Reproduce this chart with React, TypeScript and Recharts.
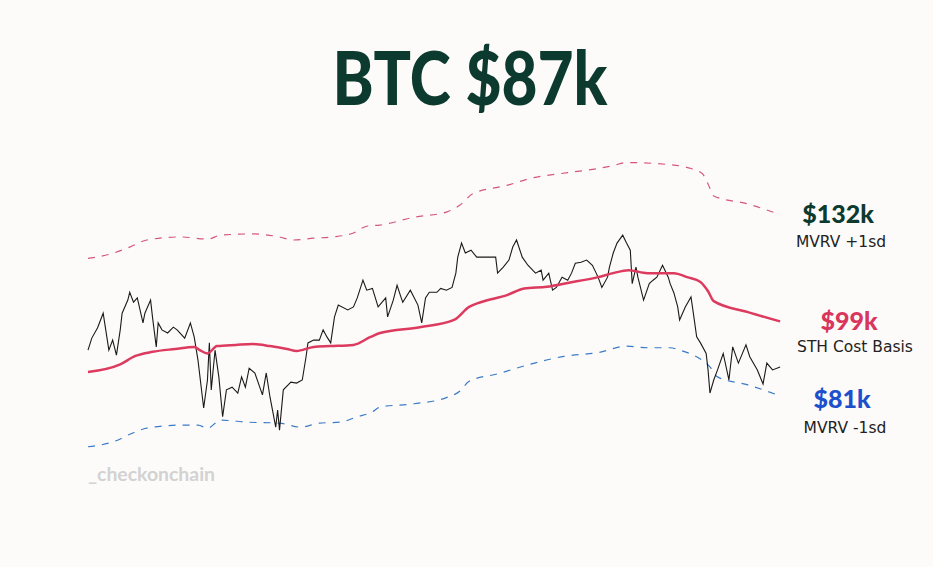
import { LineChart, Line, XAxis, YAxis } from 'recharts'

// day index (0 = late Dec 2024) and values in $k
const priceDays = [
  0, 2, 5, 8, 11, 13, 15, 17, 18, 21, 22, 24, 26, 29, 30, 33, 34, 36, 37, 39,
  42, 45, 47, 51, 54, 56, 58, 61, 63, 64, 65, 67, 69, 71, 73, 76, 79, 81, 83, 85,
  88, 92, 94, 96, 99, 100, 101, 103, 107, 110, 113, 115, 116, 119, 122, 124, 126, 128, 130, 132,
  137, 140, 142, 145, 147, 150, 153, 157, 158, 161, 163, 165, 166, 170, 174, 176, 178, 180, 184, 186,
  189, 192, 194, 195, 197, 199, 202, 205, 208, 212, 215, 216, 219, 222, 224, 226, 229, 232, 236, 239,
  240, 243, 245, 247, 250, 253, 255, 257, 260, 263, 266, 268, 269, 271, 274, 275, 277, 279, 282, 284,
  286, 287, 289, 290, 293, 296, 298, 300, 303, 306, 307, 309, 311, 312, 315, 318, 319, 321, 323, 326,
  327, 328, 330, 332, 335, 338, 340, 343, 347, 349, 353, 356, 358, 361, 365,
]
const priceValues = [
  91.6, 94.6, 97.2, 101.1, 91.6, 94.1, 90.4, 96.7, 101.1, 104.7, 106.9, 104.1, 105.3, 98.5, 101.1, 104.7, 100.1, 92.4, 98.5, 96.7,
  95.9, 97.4, 96.7, 94.6, 98.5, 94.9, 89.2, 78.5, 84.6, 93.4, 82.4, 91.6, 85.3, 76.7, 82.4, 83.0, 81.7, 85.3, 83.0, 87.3,
  86.2, 81.3, 86.2, 80.8, 74.6, 78.1, 74.0, 82.4, 84.1, 83.9, 84.6, 90.0, 93.4, 94.1, 94.1, 96.7, 94.9, 93.4, 100.1, 103.3,
  102.0, 102.8, 105.3, 110.4, 107.5, 108.0, 102.8, 105.3, 100.1, 104.7, 108.9, 105.6, 104.1, 107.5, 103.3, 98.5, 105.3, 106.9, 106.9, 108.0,
  107.5, 108.3, 112.5, 117.4, 121.9, 118.7, 119.6, 117.4, 117.4, 117.4, 117.4, 112.5, 114.3, 116.5, 120.6, 122.9, 117.4, 114.9, 112.5, 113.4,
  110.4, 112.5, 107.5, 108.3, 111.3, 110.4, 112.5, 115.5, 115.8, 116.5, 114.9, 112.5, 111.3, 108.3, 111.3, 114.3, 118.7, 121.9, 124.5, 121.9,
  119.6, 109.4, 114.3, 111.3, 104.7, 109.4, 110.4, 111.3, 114.9, 111.3, 109.4, 106.7, 102.8, 99.3, 102.8, 105.6, 102.0, 94.9, 93.4, 90.8,
  86.9, 81.7, 84.6, 86.9, 90.8, 84.6, 92.4, 88.5, 92.9, 90.0, 86.9, 83.7, 88.5, 86.9, 87.6,
]

const sthDays = [
  0, 17, 25, 34, 46, 56, 59, 63, 68, 78, 87, 96, 105, 110, 119, 128, 140, 149, 154, 175,
  193, 201, 207, 221, 230, 242, 253, 269, 277, 285, 295, 309, 316, 323, 327, 330, 348, 365,
]
const sthValues = [
  86.4, 88.2, 90.2, 91.2, 91.9, 92.4, 91.6, 90.8, 92.6, 92.9, 93.1, 92.6, 91.9, 91.4, 92.4, 92.6, 92.9, 94.9, 95.9, 97.4,
  99.3, 102.8, 104.1, 106.1, 108.0, 108.5, 109.6, 111.3, 112.5, 113.4, 112.5, 112.5, 111.3, 109.9, 107.2, 104.4, 101.4, 98.9,
]

const upperDays = [
  0, 13, 22, 31, 49, 63, 70, 87, 101, 108, 119, 129, 140, 147, 154, 172, 189, 196, 203, 221,
  233, 253, 269, 277, 284, 306, 318, 324, 327, 330, 348, 365,
]
const upperValues = [
  117.0, 118.6, 120.6, 122.9, 123.9, 123.2, 124.5, 124.9, 123.9, 122.9, 123.5, 123.9, 125.2, 127.5, 127.9, 130.6, 132.4, 134.8, 139.1, 142.2,
  144.8, 147.1, 148.7, 149.9, 151.1, 150.3, 148.7, 146.7, 142.7, 138.2, 135.3, 131.5,
]

const lowerDays = [
  0, 13, 24, 31, 49, 58, 63, 70, 84, 101, 112, 122, 133, 142, 150, 154, 172, 189, 196, 201,
  216, 233, 251, 269, 284, 295, 307, 312, 321, 328, 332, 348, 365,
]
const lowerValues = [
  70.8, 71.7, 73.5, 74.4, 75.0, 75.0, 74.4, 76.0, 75.6, 75.4, 74.6, 75.4, 75.6, 76.7, 77.7, 78.7, 79.4, 80.7, 82.1, 84.3,
  86.0, 88.2, 90.1, 91.0, 92.6, 92.2, 92.2, 91.6, 90.0, 87.6, 85.3, 83.5, 81.1,
]

const zip = (days: number[], values: number[]) => days.map((d, i) => ({ day: d, v: values[i] }))

const W = 933
const H = 567
const BG = '#fdfbf9'
const BOLD_FONT = 'Lato, "Open Sans", sans-serif'
const LABEL_FONT = '"DejaVu Sans", sans-serif'

export default function App() {
  const price = zip(priceDays, priceValues)
  const sth = zip(sthDays, sthValues)
  const upper = zip(upperDays, upperValues)
  const lower = zip(lowerDays, lowerValues)

  return (
    <div style={{ position: 'absolute', left: 0, top: 0, width: W, height: H, background: BG }}>
      <LineChart width={W} height={H} margin={{ top: 153, right: 151, bottom: 116, left: 88 }}>
        <XAxis type="number" dataKey="day" domain={[0, 366]} hide />
        <YAxis scale="log" domain={[70, 155]} hide allowDataOverflow />
        <Line data={upper} dataKey="v" type="monotone" stroke="#d4577a" strokeWidth={1.2} strokeDasharray="7 7" dot={false} isAnimationActive={false} />
        <Line data={lower} dataKey="v" type="monotone" stroke="#3a7bc8" strokeWidth={1.2} strokeDasharray="7 7" dot={false} isAnimationActive={false} />
        <Line data={price} dataKey="v" type="linear" stroke="#1a1a1a" strokeWidth={1.1} dot={false} isAnimationActive={false} />
        <Line data={sth} dataKey="v" type="monotone" stroke="#dc3a5e" strokeWidth={2.5} dot={false} isAnimationActive={false} />
      </LineChart>

      <svg width={W} height={H} style={{ position: 'absolute', left: 0, top: 0, pointerEvents: 'none' }}>
        <text x={470} y={105} textAnchor="middle" fontFamily={BOLD_FONT} fontWeight={900} fontSize={74}
          fill="#0d3a2e" textLength={275} lengthAdjust="spacingAndGlyphs">BTC $87k</text>

        <text x={838} y={223} textAnchor="middle" fontFamily={BOLD_FONT} fontWeight={900} fontSize={25} fill="#0d3a2e">$132k</text>
        <text x={841} y={247} textAnchor="middle" fontFamily={LABEL_FONT} fontSize={15.5} fill="#222">MVRV +1sd</text>

        <text x={849} y={330} textAnchor="middle" fontFamily={BOLD_FONT} fontWeight={900} fontSize={25} fill="#d9365e">$99k</text>
        <text x={855} y={352} textAnchor="middle" fontFamily={LABEL_FONT} fontSize={15.5} fill="#222">STH Cost Basis</text>

        <text x={842} y={408} textAnchor="middle" fontFamily={BOLD_FONT} fontWeight={900} fontSize={25} fill="#1c50cc">$81k</text>
        <text x={845} y={433} textAnchor="middle" fontFamily={LABEL_FONT} fontSize={15.5} fill="#222">MVRV -1sd</text>

        <text x={88} y={481} fontFamily={BOLD_FONT} fontWeight={700} fontSize={18.5} fill="#d2d2d2"
          textLength={127} lengthAdjust="spacingAndGlyphs">_checkonchain</text>
      </svg>
    </div>
  )
}
